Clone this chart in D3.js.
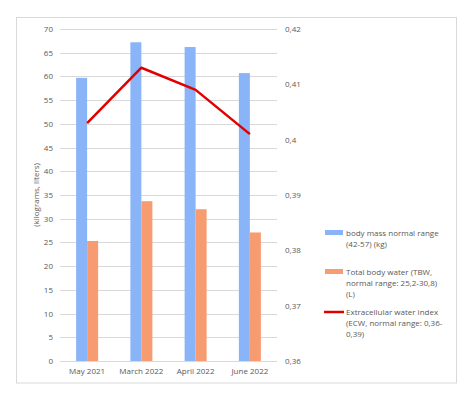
<!DOCTYPE html>
<html>
<head>
<meta charset="utf-8">
<script src="https://cdn.jsdelivr.net/npm/d3@7"></script>
<style>
  body { margin: 0; background: #fff; }
  text { font-family: "Open Sans", "Liberation Sans", sans-serif; fill: #595959; }
</style>
</head>
<body>
<div id="chart"></div>
<script>
// data
var categories = ['May 2021', 'March 2022', 'April 2022', 'June 2022'];
var bodyMass = [59.7, 67.2, 66.2, 60.7];
var totalWater = [25.3, 33.7, 32.0, 27.1];
var ecwIndex = [0.403, 0.413, 0.409, 0.401];
var leftTicks = [0, 5, 10, 15, 20, 25, 30, 35, 40, 45, 50, 55, 60, 65, 70];
var rightTicks = [0.36, 0.37, 0.38, 0.39, 0.40, 0.41, 0.42];
var legendItems = [
  {lines: ['body mass normal range', '(42-57) (kg)'], color: '#8ab4f8', kind: 'bar'},
  {lines: ['Total body water (TBW,', 'normal range: 25,2-30,8)', '(L)'], color: '#f79c70', kind: 'bar'},
  {lines: ['Extracellular water index', '(ECW, normal range: 0,36-', '0,39)'], color: '#e00000', kind: 'line'}
];

var W = 474, H = 397;
var svg = d3.select('#chart').append('svg')
  .attr('width', W).attr('height', H);

svg.append('rect')
  .attr('x', 16.5).attr('y', 17.5)
  .attr('width', 440).attr('height', 365.5)
  .attr('fill', 'none').attr('stroke', '#d9d9d9');

var x = d3.scaleBand().domain(categories).range([60, 277]);
var xs = d3.scaleBand().domain([0, 1]).range([-11, 11]);
var y = d3.scaleLinear().domain([0, 70]).range([361, 29]);
var y2 = d3.scaleLinear().domain([0.36, 0.42]).range([361, 29]);

// gridlines
svg.append('g').selectAll('line').data(leftTicks).enter().append('line')
  .attr('x1', 60).attr('x2', 277)
  .attr('y1', function(d){ return Math.round(y(d)) + 0.5 })
  .attr('y2', function(d){ return Math.round(y(d)) + 0.5 })
  .attr('stroke', '#d9d9d9').attr('stroke-width', 1);

// left axis
var leftAxis = d3.axisLeft(y).tickValues(leftTicks).tickSize(0).tickPadding(0);
var gl = svg.append('g').attr('transform', 'translate(53,0)').call(leftAxis);
gl.select('.domain').remove();
gl.selectAll('text').style('font-size', '8px').attr('fill', '#595959');

// right axis
var rightAxis = d3.axisRight(y2).tickValues(rightTicks).tickSize(0).tickPadding(0)
  .tickFormat(function(d){ return d3.format('~r')(+d.toFixed(2)).replace('.', ',') });
var gr = svg.append('g').attr('transform', 'translate(285,0)').call(rightAxis);
gr.select('.domain').remove();
gr.selectAll('text').style('font-size', '8px').attr('fill', '#595959');

// category axis
var bottomAxis = d3.axisBottom(x).tickSize(0).tickPadding(0);
var gb = svg.append('g').attr('transform', 'translate(0,368)').call(bottomAxis);
gb.select('.domain').remove();
gb.selectAll('text').style('font-size', '8px').attr('fill', '#595959');

// bars
var series = [bodyMass, totalWater];
var colors = ['#8ab4f8', '#f79c70'];
series.forEach(function(vals, s){
  svg.append('g').selectAll('rect').data(vals).enter().append('rect')
    .attr('x', function(d, i){ return x(categories[i]) + x.bandwidth() / 2 + xs(s) })
    .attr('width', xs.bandwidth())
    .attr('y', function(d){ return y(d) })
    .attr('height', function(d){ return y(0) - y(d) })
    .attr('fill', colors[s]);
});

// ecw line
var line = d3.line()
  .x(function(d, i){ return x(categories[i]) + x.bandwidth() / 2 })
  .y(function(d){ return y2(d) });
svg.append('path').datum(ecwIndex)
  .attr('d', line)
  .attr('fill', 'none')
  .attr('stroke', '#e00000')
  .attr('stroke-width', 2.5)
  .attr('stroke-linejoin', 'round');

// y title
svg.append('text')
  .attr('transform', 'translate(39,195) rotate(-90)')
  .attr('text-anchor', 'middle')
  .style('font-size', '8px')
  .text('(kilograms, liters)');

// legend
var legY = [233, 272, 312];
legendItems.forEach(function(item, k){
  var g = svg.append('g').attr('transform', 'translate(0,' + legY[k] + ')');
  if (item.kind == 'bar') {
    g.append('rect').attr('x', 325).attr('y', -3).attr('width', 18).attr('height', 5)
      .attr('fill', item.color);
  } else {
    g.append('line').attr('x1', 324).attr('x2', 344).attr('y1', 0).attr('y2', 0)
      .attr('stroke', item.color).attr('stroke-width', 2.5);
  }
  item.lines.forEach(function(t, j){
    g.append('text').attr('x', 346).attr('y', j * 11 + 3)
      .style('font-size', '8px').text(t);
  });
});
</script>
</body>
</html>
